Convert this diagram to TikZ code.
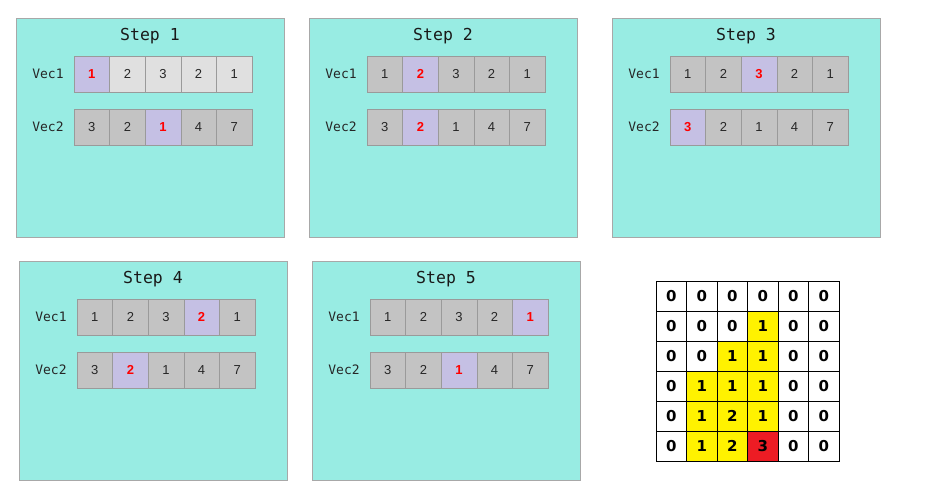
\documentclass[tikz,border=0pt]{standalone}
\usepackage{fontspec}
\setmainfont{Liberation Sans}
\newfontfamily\monof{DejaVu Sans Mono}
\newfontfamily\gridf{DejaVu Sans}
\definecolor{panelfill}{HTML}{98ECE3}
\definecolor{panelline}{HTML}{A8A8A8}
\definecolor{cellgray}{HTML}{C3C3C3}
\definecolor{celllight}{HTML}{E0E0E0}
\definecolor{cellline}{HTML}{9A9A9A}
\definecolor{hlfill}{HTML}{C5C0E4}
\definecolor{hlred}{HTML}{FF0000}
\definecolor{gyellow}{HTML}{FFF200}
\definecolor{gred}{HTML}{ED1C24}
\tikzset{
  panel/.style={draw=panelline, fill=panelfill, line width=1pt, minimum width=268pt, minimum height=219pt, inner sep=0pt, anchor=north west},
  steptitle/.style={font=\monof\fontsize{16.5}{18}\selectfont, text=black!90},
  veclabel/.style={font=\monof\fontsize{13}{15}\selectfont, text=black!85},
  vcell/.style={draw=cellline, line width=0.6pt, fill=#1, minimum width=35.6pt, minimum height=35.6pt, inner sep=0pt, font=\fontsize{13}{15}\selectfont, text=black!85},
  hlcell/.style={vcell=hlfill, font=\bfseries\fontsize{13}{15}\selectfont, text=hlred},
  gcell/.style={draw=black, line width=1pt, fill=#1, minimum width=30.5pt, minimum height=30pt, inner sep=0pt, font=\gridf\bfseries\fontsize{15}{17}\selectfont, text=black},
}
\newcommand\steppanel[8]{%
  \node[panel] (#1) at (#2,#3) {};
  \node[steptitle] (#1t) at (#2+134,#3+18) {Step #4};
  \node[veclabel] (#1la) at (#2+32,#3+56) {Vec1};
  \node[veclabel] (#1lb) at (#2+32,#3+109) {Vec2};
  \foreach \v [count=\i] in {#5} {
    \ifnum\i=#7
      \node[hlcell] (#1a\i) at (#2+40.2+35.6*\i,#3+56) {\v};
    \else
      \node[vcell=\vecAfill] (#1a\i) at (#2+40.2+35.6*\i,#3+56) {\v};
    \fi
  }
  \foreach \v [count=\i] in {#6} {
    \ifnum\i=#8
      \node[hlcell] (#1b\i) at (#2+40.2+35.6*\i,#3+109) {\v};
    \else
      \node[vcell=cellgray] (#1b\i) at (#2+40.2+35.6*\i,#3+109) {\v};
    \fi
  }
}
\begin{document}
\begin{tikzpicture}[x=1pt,y=-1pt]
\useasboundingbox (0,0) rectangle (943,496);
\fill[white] (0,0) rectangle (943,496);
\def\vecAfill{celllight}
\steppanel{s1}{16}{18}{1}{1,2,3,2,1}{3,2,1,4,7}{1}{3}
\def\vecAfill{cellgray}
\steppanel{s2}{309}{18}{2}{1,2,3,2,1}{3,2,1,4,7}{2}{2}
\steppanel{s3}{612}{18}{3}{1,2,3,2,1}{3,2,1,4,7}{3}{1}
\steppanel{s4}{19}{261}{4}{1,2,3,2,1}{3,2,1,4,7}{4}{2}
\steppanel{s5}{312}{261}{5}{1,2,3,2,1}{3,2,1,4,7}{5}{3}
% result grid
\foreach \row [count=\r] in {
  {0/white,0/white,0/white,0/white,0/white,0/white},
  {0/white,0/white,0/white,1/gyellow,0/white,0/white},
  {0/white,0/white,1/gyellow,1/gyellow,0/white,0/white},
  {0/white,1/gyellow,1/gyellow,1/gyellow,0/white,0/white},
  {0/white,1/gyellow,2/gyellow,1/gyellow,0/white,0/white},
  {0/white,1/gyellow,2/gyellow,3/gred,0/white,0/white}} {
  \foreach \v/\f [count=\c] in \row {
    \node[gcell=\f] (g\r\c) at (656+30.5*\c-15.25,281+30*\r-15) {\v};
  }
}
\end{tikzpicture}
\end{document}
